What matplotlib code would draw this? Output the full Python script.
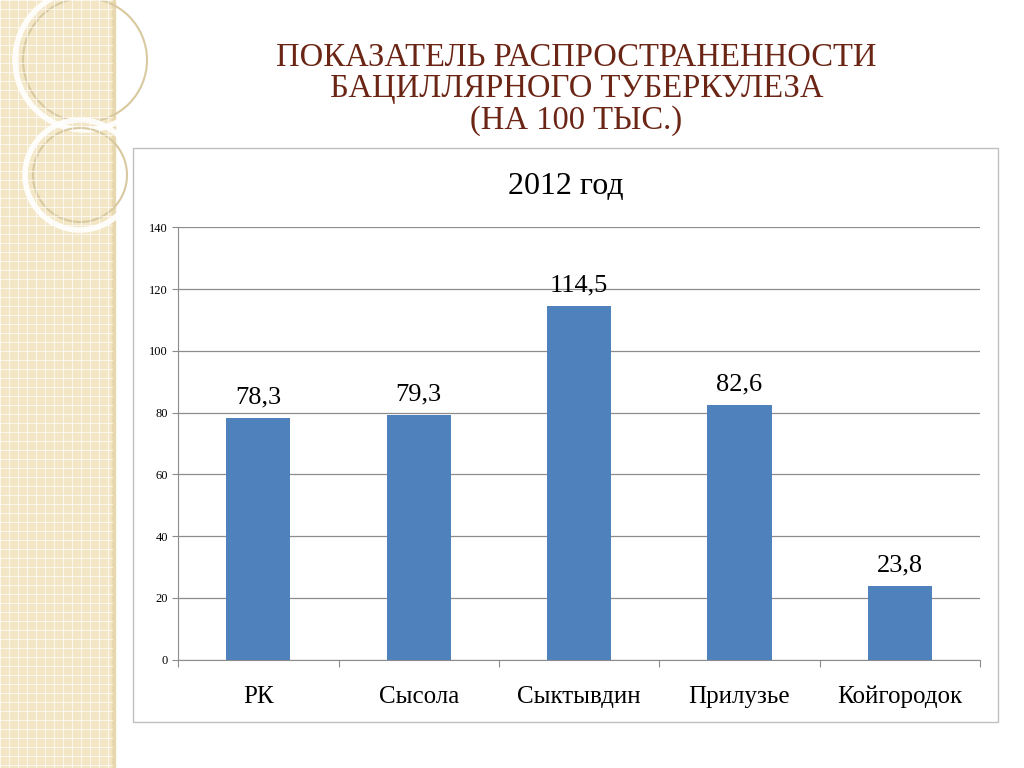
import matplotlib
matplotlib.use("Agg")
import matplotlib.pyplot as plt
from matplotlib.patches import Rectangle, Circle

categories = ["РК", "Сысола", "Сыктывдин", "Прилузье", "Койгородок"]
values = [78.3, 79.3, 114.5, 82.6, 23.8]
yticks = [0, 20, 40, 60, 80, 100, 120, 140]

fig = plt.figure(figsize=(10.24, 7.68), dpi=100)
fig.patch.set_facecolor("white")

# decorative left strip
bg = fig.add_axes([0, 0, 1, 1], zorder=-5)
bg.set_xlim(0, 1024); bg.set_ylim(768, 0); bg.axis("off")
bg.add_patch(Rectangle((0, 0), 112, 768, color="#F3E6C4"))
for x in range(0, 112, 9):
    bg.plot([x, x], [0, 768], color="white", lw=0.8, alpha=0.7)
for y in range(0, 768, 9):
    bg.plot([0, 112], [y, y], color="white", lw=0.8, alpha=0.7)
bg.add_patch(Rectangle((112, 0), 3, 768, color="#E8D8B0"))
for (cx, cy, r) in [(85, 60, 70), (80, 175, 55)]:
    bg.add_patch(Circle((cx, cy), r, fill=False, ec="white", lw=4, alpha=0.9))
    bg.add_patch(Circle((cx, cy), r - 8, fill=False, ec="#D9C9A0", lw=1.5))
# chart border
bg.add_patch(Rectangle((133, 148), 865, 574, fill=False, ec="#C0C0C0", lw=1))

fig.text(0.563, 0.945, "ПОКАЗАТЕЛЬ РАСПРОСТРАНЕННОСТИ\nБАЦИЛЛЯРНОГО ТУБЕРКУЛЕЗА\n(НА 100 ТЫС.)",
         ha="center", va="top", fontsize=23.5, color="#6B2515",
         family="Liberation Serif", linespacing=1.05)
fig.text(0.553, 0.757, "2012 год", ha="center", va="center", fontsize=23,
         family="Liberation Serif", color="black")

ax = fig.add_axes([0.174, 0.141, 0.783, 0.563])
x = range(len(categories))
ax.bar(x, values, width=0.4, color="#4F81BD", zorder=3)
for i, v in zip(x, values):
    ax.text(i, v + 3, f"{v:.1f}".replace(".", ","), ha="center", va="bottom",
            fontsize=19, family="Liberation Serif")
ax.set_xlim(-0.5, len(categories) - 0.5)
ax.set_ylim(0, 140)
ax.set_yticks(yticks)
ax.set_yticklabels([str(t) for t in yticks], fontsize=9, family="Liberation Serif")
ax.yaxis.grid(True, color="#8C8C8C", lw=0.9, zorder=0)
ax.set_xticks([i + 0.5 for i in range(-1, len(categories))], minor=False)
ax.set_xticklabels([])
ax.tick_params(axis="x", length=5, color="#8C8C8C")
ax.tick_params(axis="y", length=4, color="#8C8C8C")
for i, c in enumerate(categories):
    ax.text(i, -8.5, c, ha="center", va="top", fontsize=18, family="Liberation Serif",
            transform=ax.transData)
for s in ["top", "right"]:
    ax.spines[s].set_visible(False)
for s in ["left", "bottom"]:
    ax.spines[s].set_color("#8C8C8C")
fig.savefig("out.png", dpi=100)
